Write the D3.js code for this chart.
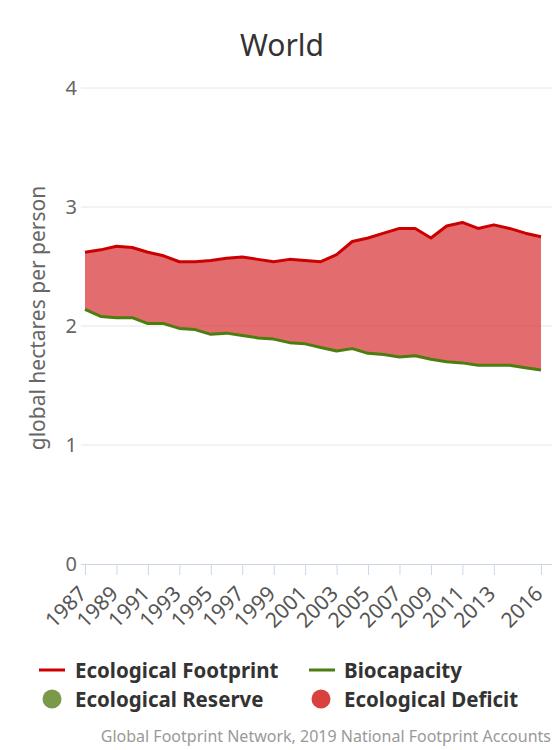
<!DOCTYPE html>
<html>
<head>
<meta charset="utf-8">
<script src="https://cdn.jsdelivr.net/npm/d3@7/dist/d3.min.js"></script>
<style>
  body { margin: 0; background: #fff; }
  svg { font-family: "Noto Sans", "Open Sans", sans-serif; }
</style>
</head>
<body>
<div id="chart"></div>
<script>
// Years shown on the x axis
const years = d3.range(1987, 2017);

// Values, global hectares per person
const footprint = [2.62, 2.64, 2.67, 2.66, 2.62, 2.59, 2.54, 2.54, 2.55, 2.57,
  2.58, 2.56, 2.54, 2.56, 2.55, 2.54, 2.60, 2.71, 2.74, 2.78,
  2.82, 2.82, 2.74, 2.84, 2.87, 2.82, 2.85, 2.82, 2.78, 2.75];
const biocapacity = [2.14, 2.08, 2.07, 2.07, 2.02, 2.02, 1.98, 1.97, 1.93, 1.94,
  1.92, 1.90, 1.89, 1.86, 1.85, 1.82, 1.79, 1.81, 1.77, 1.76,
  1.74, 1.75, 1.72, 1.70, 1.69, 1.67, 1.67, 1.67, 1.65, 1.63];

const xTickLabels = [1987, 1989, 1991, 1993, 1995, 1997, 1999, 2001, 2003, 2005, 2007, 2009, 2011, 2013, 2016];
const yTicks = [0, 1, 2, 3, 4];

const W = 560, H = 750;
const plot = { left: 81, right: 552, top: 88, bottom: 564 };

const svg = d3.select("#chart").append("svg")
  .attr("width", W).attr("height", H);

const x = d3.scaleLinear().domain([1987, 2016]).range([85, 541]);
const y = d3.scaleLinear().domain([0, 4]).range([plot.bottom, plot.top]);

// title
svg.append("text")
  .attr("x", 282).attr("y", 56)
  .attr("text-anchor", "middle")
  .attr("fill", "#333").attr("font-size", 30)
  .text("World");

// horizontal grid and y labels
const yAxis = svg.append("g");
yAxis.selectAll("line").data(yTicks.filter(d => d > 0)).join("line")
  .attr("x1", plot.left).attr("x2", plot.right)
  .attr("y1", d => y(d)).attr("y2", d => y(d))
  .attr("stroke", "#e6e6e6").attr("stroke-width", 1);
yAxis.selectAll("text").data(yTicks).join("text")
  .attr("x", 77).attr("y", d => y(d) + 7)
  .attr("text-anchor", "end")
  .attr("fill", "#666").attr("font-size", 20)
  .text(d => d);

svg.append("text")
  .attr("transform", "translate(45,318) rotate(-90)")
  .attr("text-anchor", "middle")
  .attr("fill", "#666").attr("font-size", 21)
  .text("global hectares per person");

const data = years.map((yr, i) => ({ yr, fp: footprint[i], bc: biocapacity[i] }));

// deficit area between the two lines
svg.append("path")
  .datum(data)
  .attr("fill", "#d93a3c").attr("fill-opacity", 0.74)
  .attr("d", d3.area().x(d => x(d.yr)).y0(d => y(d.bc)).y1(d => y(d.fp)));

// x axis
const xAxis = svg.append("g");
xAxis.append("line")
  .attr("x1", plot.left).attr("x2", plot.right)
  .attr("y1", plot.bottom + 0.5).attr("y2", plot.bottom + 0.5)
  .attr("stroke", "#ccd6eb");
xAxis.selectAll("line.tick").data(xTickLabels).join("line")
  .attr("class", "tick")
  .attr("x1", d => x(d) + 0.5).attr("x2", d => x(d) + 0.5)
  .attr("y1", plot.bottom).attr("y2", plot.bottom + 11)
  .attr("stroke", "#ccd6eb");
xAxis.selectAll("text").data(xTickLabels).join("text")
  .attr("transform", d => `translate(${x(d) + 3},${plot.bottom + 31}) rotate(-45)`)
  .attr("text-anchor", "end")
  .attr("fill", "#555").attr("font-size", 21)
  .text(d => d);

// lines
const lineFp = d3.line().x(d => x(d.yr)).y(d => y(d.fp));
const lineBc = d3.line().x(d => x(d.yr)).y(d => y(d.bc));
svg.append("path").datum(data)
  .attr("fill", "none").attr("stroke", "#cc0000").attr("stroke-width", 3)
  .attr("stroke-linejoin", "round").attr("d", lineFp);
svg.append("path").datum(data)
  .attr("fill", "none").attr("stroke", "#4b7d0f").attr("stroke-width", 3)
  .attr("stroke-linejoin", "round").attr("d", lineBc);

// legend
const legend = svg.append("g").attr("font-size", 20.5).attr("font-weight", "bold").attr("fill", "#333");
const legendItems = [
  { label: "Ecological Footprint", type: "line", color: "#cc0000", lx: 39, tx: 75, ty: 678 },
  { label: "Biocapacity", type: "line", color: "#4b7d0f", lx: 309, tx: 344, ty: 678 },
  { label: "Ecological Reserve", type: "dot", color: "#7a9a4a", lx: 52, tx: 75, ty: 707 },
  { label: "Ecological Deficit", type: "dot", color: "#d94040", lx: 321, tx: 344, ty: 707 }
];
legendItems.forEach(d => {
  if (d.type === "line") {
    legend.append("line")
      .attr("x1", d.lx).attr("x2", d.lx + 26)
      .attr("y1", d.ty - 8).attr("y2", d.ty - 8)
      .attr("stroke", d.color).attr("stroke-width", 3);
  } else {
    legend.append("circle")
      .attr("cx", d.lx).attr("cy", d.ty - 8).attr("r", 9.5)
      .attr("fill", d.color);
  }
  legend.append("text").attr("x", d.tx).attr("y", d.ty).text(d.label);
});

// credits
svg.append("text")
  .attr("x", 551).attr("y", 742)
  .attr("text-anchor", "end")
  .attr("fill", "#999").attr("font-size", 16)
  .text("Global Footprint Network, 2019 National Footprint Accounts");
</script>
</body>
</html>
